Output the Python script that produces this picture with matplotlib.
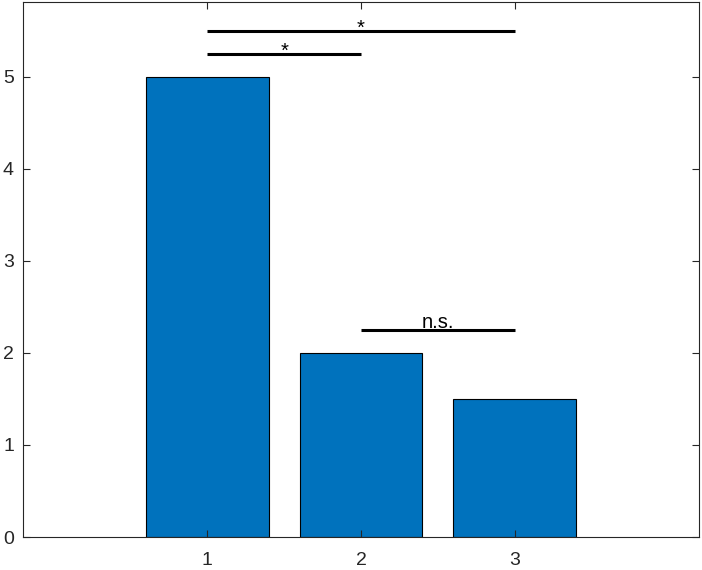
import numpy as np
import matplotlib.pyplot as plt

plt.rcParams['font.family'] = ['Liberation Sans', 'DejaVu Sans']

groups = [1, 2, 3]
values = [5, 2, 1.5]
# significance brackets: (x start, x end, height, label)
sig_pairs = [(1, 3, 5.5, '*'), (1, 2, 5.25, '*'), (2, 3, 2.25, 'n.s.')]

fig = plt.figure(figsize=(7.02, 5.70), dpi=100)
ax = fig.add_axes([23/702, 33/570, 676/702, 535/570])

ax.bar(groups, values, width=0.8, color='#0072BD', edgecolor='black', linewidth=0.8)

for x0, x1, h, lab in sig_pairs:
    ax.plot([x0, x1], [h, h], color='black', linewidth=2.2, solid_capstyle='butt')
    off = -0.035 if lab == '*' else 0.015
    ax.text((x0 + x1) / 2, h + off, lab, ha='center', va='baseline', fontsize=14.5)

ax.set_xlim(-0.2, 4.2)
ax.set_ylim(0, 5.81)
ax.set_xticks(groups)
ax.set_yticks(np.arange(0, 6, 1))
ax.tick_params(direction='in', top=True, right=True, labelsize=14, length=5, width=0.8, colors='#262626')
ax.tick_params(axis='x', pad=11)
ax.tick_params(axis='y', pad=6.5)
for s in ax.spines.values():
    s.set_color('#262626')
    s.set_linewidth(0.8)

fig.savefig('out.png', dpi=100)
